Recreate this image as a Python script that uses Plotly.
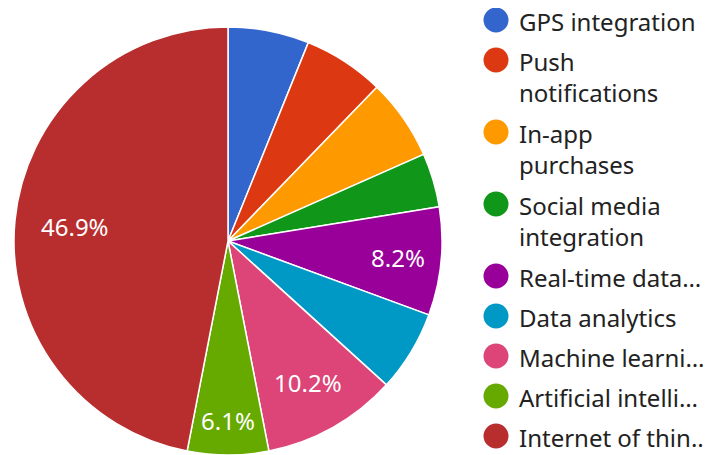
import math
import plotly.graph_objects as go

# ---- data ----
labels = ["GPS integration", "Push notifications", "In-app purchases",
          "Social media integration", "Real-time data…", "Data analytics",
          "Machine learni…", "Artificial intelli…", "Internet of thin…"]
legend_lines = [["GPS integration"], ["Push", "notifications"], ["In-app", "purchases"],
                ["Social media", "integration"], ["Real-time data…"], ["Data analytics"],
                ["Machine learni…"], ["Artificial intelli…"], ["Internet of thin…"]]
values = [3, 3, 3, 2, 4, 3, 5, 3, 23]
show_label = [False, False, False, False, True, False, True, True, True]
colors = ["#3366cc", "#dc3912", "#ff9900", "#109618", "#990099",
          "#0099c6", "#dd4477", "#66aa00", "#b82e2e"]

# page body has an 8px margin, so the figure is sized to fill the rest of the window
W, H = 705, 447
FONT = "Noto Sans"
FS = 24

total = sum(values)
# the largest slice gets its label placed further out (as in the reference); others use Plotly's
big = values.index(max(values))
texttemplate = ["%{percent:.1%}" if (s and i != big) else "" for i, s in enumerate(show_label)]

PCX, PCY, PR = 220, 233, 214  # pie centre / radius in px
fig = go.Figure(go.Pie(
    labels=labels,
    values=values,
    sort=False,
    direction="clockwise",
    rotation=0,
    marker=dict(colors=colors, line=dict(color="white", width=1.5)),
    texttemplate=texttemplate,
    textposition="inside",
    insidetextorientation="horizontal",
    textfont=dict(family=FONT, size=FS, color="white"),
    hoverinfo="label+percent+value",
    domain=dict(x=[(PCX - PR) / W, (PCX + PR) / W], y=[(H - PCY - PR) / H, (H - PCY + PR) / H]),
    showlegend=False,
))

annotations = []
# label of the largest slice, at its mid-angle
start = sum(values[:big]) / total * 2 * math.pi
mid = start + values[big] / total * math.pi
rr = 0.72 * PR
lx = PCX + rr * math.sin(mid)
ly = PCY - rr * math.cos(mid)
annotations.append(dict(text=f"{values[big] / total * 100:.1f}%", xref="paper", yref="paper",
                        x=lx / W, y=1 - ly / H, xanchor="center", yanchor="middle",
                        showarrow=False, font=dict(family=FONT, size=FS, color="white")))

# ---- custom legend (circles + wrapped labels) ----
shapes = []
y_cur = 12.0
line_h, gap, r = 32, 8, 12.5
cx, tx = 488, 510
for lines, col in zip(legend_lines, colors):
    shapes.append(dict(type="circle", xref="paper", yref="paper",
                       x0=(cx - r) / W, x1=(cx + r) / W,
                       y0=1 - (y_cur + r) / H, y1=1 - (y_cur - r) / H,
                       fillcolor=col, line=dict(width=0)))
    annotations.append(dict(text="<br>".join(lines), xref="paper", yref="paper",
                            x=tx / W, y=1 - (y_cur - 16) / H,
                            xanchor="left", yanchor="top", align="left",
                            showarrow=False, borderpad=0,
                            font=dict(family=FONT, size=FS, color="#222222")))
    y_cur += len(lines) * line_h + gap

fig.update_layout(
    width=W, height=H,
    margin=dict(l=0, r=0, t=0, b=0),
    paper_bgcolor="white", plot_bgcolor="white",
    font=dict(family=FONT),
    shapes=shapes, annotations=annotations,
)

fig.write_html("out.html")
